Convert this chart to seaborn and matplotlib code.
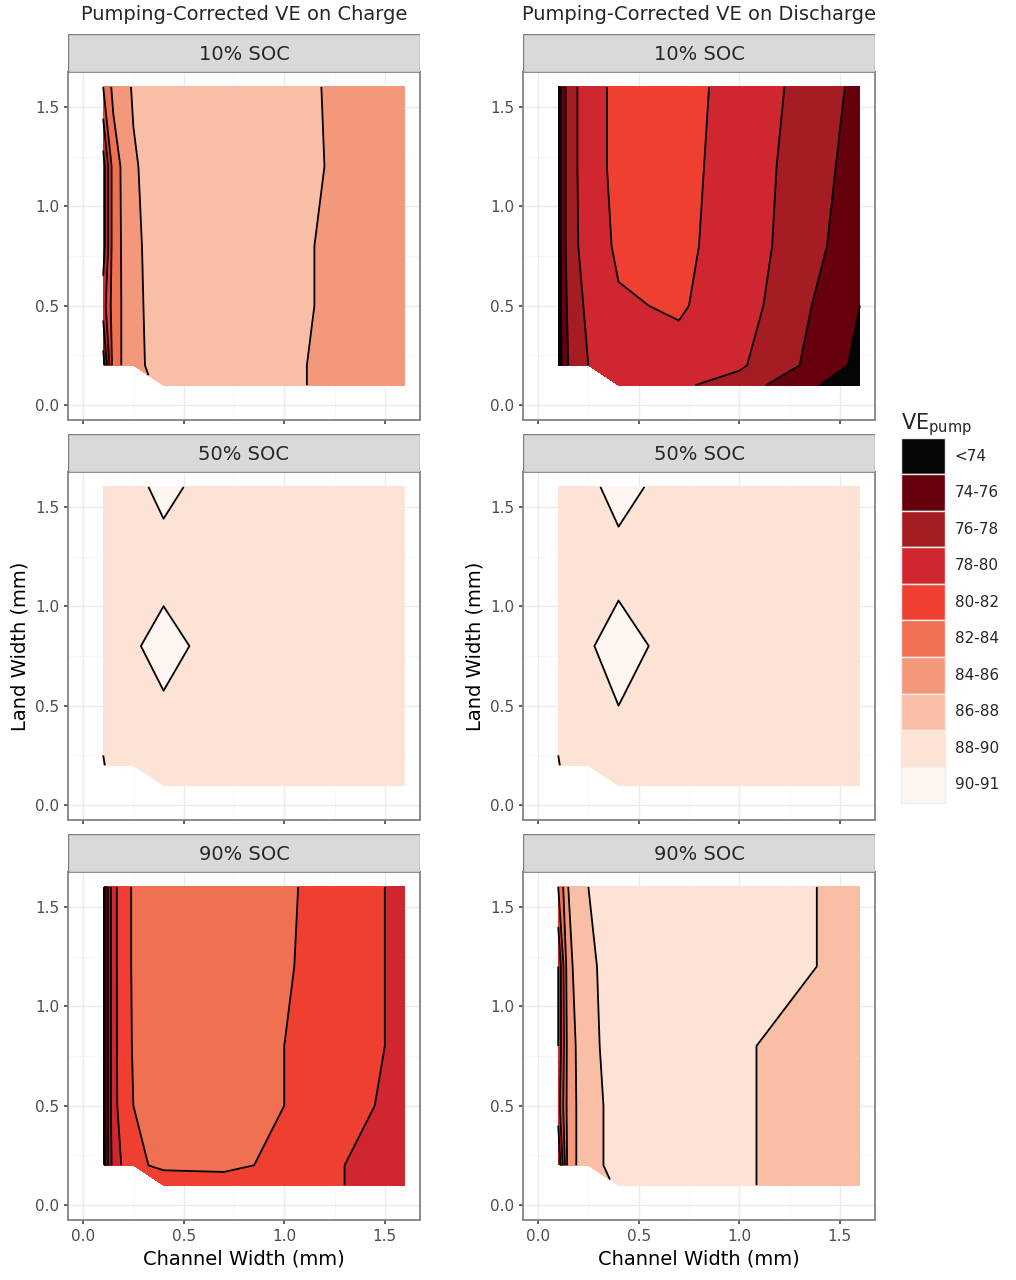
import numpy as np
import seaborn as sns
import matplotlib.pyplot as plt
from matplotlib.patches import Patch, Rectangle

nan = np.nan
channel_width = [0.1, 0.15, 0.25, 0.4, 0.7, 1.0, 1.3, 1.6]
land_width = [0.1, 0.2, 0.5, 0.8, 1.2, 1.6]

charge_10 = [[nan, nan, nan, 86.5, 87.3, 86.3, 85.5, 85.0],
             [75.0, 83.0, 85.5, 86.8, 87.3, 86.3, 85.5, 85.0],
             [79.0, 83.0, 85.5, 87.0, 87.3, 86.3, 85.7, 84.8],
             [77.0, 83.0, 85.6, 87.0, 87.3, 86.4, 85.6, 85.5],
             [77.0, 83.0, 85.8, 87.0, 87.3, 86.6, 85.7, 85.5],
             [82.0, 84.5, 86.2, 87.0, 87.5, 86.8, 85.5, 85.5]]
discharge_10 = [[nan, nan, nan, 78.3, 78.3, 77.2, 74.5, 73.0],
                [73.0, 76.0, 78.0, 79.2, 79.4, 78.3, 76.0, 73.5],
                [73.0, 76.5, 78.5, 79.8, 80.2, 79.0, 76.5, 74.0],
                [73.0, 77.0, 79.0, 80.3, 80.4, 79.2, 77.0, 74.8],
                [73.0, 77.0, 79.2, 80.5, 80.5, 79.3, 77.2, 75.2],
                [73.0, 77.0, 79.2, 80.5, 80.5, 79.5, 77.5, 75.5]]
charge_50 = [[nan, nan, nan, 89.5, 89.3, 89.2, 89.0, 89.0],
             [87.8, 89.0, 89.5, 89.7, 89.4, 89.2, 89.0, 89.0],
             [89.0, 89.5, 89.8, 89.9, 89.5, 89.3, 89.0, 89.0],
             [89.0, 89.5, 89.9, 90.3, 89.6, 89.3, 89.0, 89.0],
             [89.0, 89.5, 89.8, 89.7, 89.5, 89.3, 89.0, 89.0],
             [89.0, 89.5, 89.8, 90.2, 89.6, 89.3, 89.0, 89.0]]
discharge_50 = [[nan, nan, nan, 89.5, 89.3, 89.2, 89.0, 89.0],
                [87.8, 89.0, 89.5, 89.7, 89.4, 89.2, 89.0, 89.0],
                [89.0, 89.5, 89.8, 90.0, 89.5, 89.3, 89.0, 89.0],
                [89.0, 89.5, 89.9, 90.4, 89.6, 89.3, 89.0, 89.0],
                [89.0, 89.5, 89.8, 89.7, 89.5, 89.3, 89.0, 89.0],
                [89.0, 89.5, 89.8, 90.3, 89.6, 89.3, 89.0, 89.0]]
charge_90 = [[nan, nan, nan, 80.5, 81.0, 81.0, 80.0, 78.0],
             [73.0, 79.0, 81.5, 82.5, 82.5, 81.5, 80.0, 78.5],
             [73.0, 79.5, 82.0, 83.0, 83.0, 82.0, 80.5, 79.5],
             [73.0, 79.5, 82.2, 83.2, 83.2, 82.0, 81.0, 79.5],
             [73.0, 79.5, 82.3, 83.3, 83.3, 82.2, 81.0, 79.5],
             [73.0, 79.5, 82.3, 83.3, 83.3, 82.3, 81.0, 79.5]]
discharge_90 = [[nan, nan, nan, 88.2, 88.5, 88.2, 87.5, 87.0],
                [76.0, 85.0, 87.5, 88.5, 88.5, 88.2, 87.5, 87.0],
                [79.0, 85.0, 87.5, 88.5, 88.5, 88.2, 87.5, 87.0],
                [78.0, 85.0, 87.7, 88.5, 88.5, 88.2, 87.5, 87.5],
                [78.0, 85.5, 87.8, 88.5, 88.5, 88.3, 88.2, 87.5],
                [82.0, 86.0, 88.0, 88.5, 88.5, 88.4, 88.2, 87.5]]

levels = [60, 74, 76, 78, 80, 82, 84, 86, 88, 90, 91]
level_labels = ['<74', '74-76', '76-78', '78-80', '80-82', '82-84',
                '84-86', '86-88', '88-90', '90-91']
soc_labels = ['10% SOC', '50% SOC', '90% SOC']
col_titles = ['Pumping-Corrected VE on Charge', 'Pumping-Corrected VE on Discharge']

sns.set_theme(style="whitegrid")
plt.rcParams['font.family'] = ['DejaVu Sans']
colors = ['#050505', '#67000d', '#a51c22', '#cf2630', '#ef3f30', '#f07052',
          '#f4987c', '#f9bea6', '#fde2d6', '#fff6f2']

fig = plt.figure(figsize=(10.16, 12.8), dpi=100)
W, H = 1016, 1280
grids = [[charge_10, discharge_10], [charge_50, discharge_50], [charge_90, discharge_90]]
lefts = [68, 523]
pw = 352
tops = [72, 472, 872]
ph = 348
X, Y = np.meshgrid(channel_width, land_width)

for r in range(3):
    for c in range(2):
        ax = fig.add_axes([lefts[c] / W, 1 - (tops[r] + ph) / H, pw / W, ph / H])
        Z = np.ma.masked_invalid(np.array(grids[r][c]))
        ax.contourf(X, Y, Z, levels=levels, colors=colors)
        ax.contour(X, Y, Z, levels=levels[1:-1], colors='black', linewidths=1.3)
        ax.set_xlim(-0.075, 1.675)
        ax.set_ylim(-0.075, 1.675)
        ax.set_xticks([0, 0.5, 1.0, 1.5])
        ax.set_yticks([0, 0.5, 1.0, 1.5])
        ax.set_xticks([0.25, 0.75, 1.25], minor=True)
        ax.set_yticks([0.25, 0.75, 1.25], minor=True)
        ax.grid(True, which='major', color='#ebebeb', lw=1)
        ax.grid(True, which='minor', color='#f5f5f5', lw=0.6)
        ax.set_facecolor('white')
        for s in ax.spines.values():
            s.set_color('#7f7f7f')
        ax.tick_params(labelsize=11, colors='#4d4d4d', length=3, left=True, bottom=True)
        ax.set_xticklabels(['0.0', '0.5', '1.0', '1.5'] if r == 2 else [])
        ax.set_yticklabels(['0.0', '0.5', '1.0', '1.5'])
        if r == 2:
            ax.set_xlabel('Channel Width (mm)', fontsize=14, color='black')
        if r == 1:
            ax.set_ylabel('Land Width (mm)', fontsize=14, color='black')
        # strip
        sax = fig.add_axes([lefts[c] / W, 1 - tops[r] / H, pw / W, 38 / H])
        sax.set_axis_off()
        sax.add_patch(Rectangle((0, 0), 1, 1, transform=sax.transAxes,
                                facecolor='#d9d9d9', edgecolor='#7f7f7f', lw=1))
        sax.text(0.5, 0.45, soc_labels[r], ha='center', va='center', fontsize=14)
        if r == 0:
            fig.text((lefts[c] + pw / 2) / W, 1 - 14 / H, col_titles[c],
                     ha='center', va='center', fontsize=14)

handles = [Patch(facecolor=colors[i], edgecolor='#eeeeee') for i in range(len(level_labels))]
leg = fig.legend(handles, level_labels, loc='upper left', bbox_to_anchor=(895 / W, 1 - 405 / H),
                 frameon=False, fontsize=11, title=r'VE$_{\mathrm{pump}}$', title_fontsize=15,
                 handlelength=2.9, handleheight=3.3, labelspacing=0.0, handletextpad=0.6,
                 borderaxespad=0)
leg._legend_box.align = 'left'

fig.savefig('out.png', dpi=100)
